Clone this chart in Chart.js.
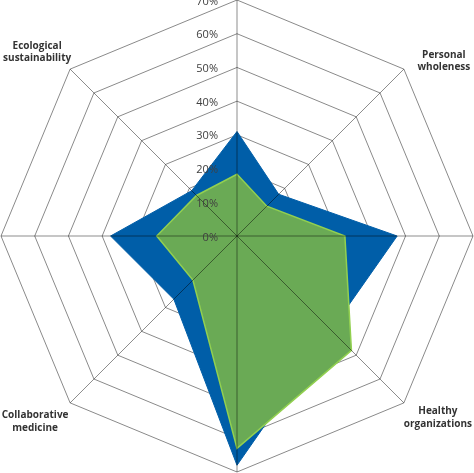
<!DOCTYPE html>
<html>
<head>
<meta charset="utf-8">
<script src="https://cdn.jsdelivr.net/npm/chart.js@4/dist/chart.umd.min.js"></script>
<style>
  html, body { margin: 0; padding: 0; background: #fff; overflow: hidden; }
  #wrap { width: 474px; height: 473px; position: relative; }
</style>
</head>
<body>
<div id="wrap"><canvas id="chart"></canvas></div>
<script>
// radar axes, clockwise from the top; the four cut-off axis names are not readable
const categories = [
  '', 'Personal\nwholeness', '', 'Healthy\norganizations',
  '', 'Collaborative\nmedicine', '', 'Ecological\nsustainability'
];
const blueValues = [31, 17.5, 47.5, 39.5, 68, 26.5, 37.5, 19];
const greenValues = [18.3, 12.5, 32, 48, 63, 18.5, 23.8, 17];
const tickValues = [0, 10, 20, 30, 40, 50, 60, 70];

// nudge of each axis label away from its corner of the grid
const labelNudge = { 1: [40, -8], 3: [34, 15], 5: [-35, 19], 7: [-33, -17] };

// spokes on top of the fills, plus tick and axis labels
const overlay = {
  id: 'overlay',
  afterDatasetsDraw(chart) {
    const r = chart.scales.r;
    const ctx = chart.ctx;
    ctx.save();

    ctx.strokeStyle = 'rgba(0,0,0,0.45)';
    ctx.lineWidth = 1;
    categories.forEach((c, i) => {
      const p = r.getPointPosition(i, r.drawingArea);
      ctx.beginPath();
      ctx.moveTo(r.xCenter, r.yCenter);
      ctx.lineTo(p.x, p.y);
      ctx.stroke();
    });

    ctx.fillStyle = '#404040';
    ctx.font = '11px "Open Sans"';
    ctx.textAlign = 'right';
    ctx.textBaseline = 'middle';
    tickValues.forEach(v => {
      const y = r.yCenter - r.getDistanceFromCenterForValue(v);
      ctx.fillText(v + '%', r.xCenter - 19, y + 1.5);
    });

    ctx.fillStyle = '#333';
    ctx.font = 'bold 10px "Open Sans"';
    ctx.textAlign = 'center';
    categories.forEach((c, i) => {
      if (!c) return;
      const p = r.getPointPosition(i, r.drawingArea);
      const n = labelNudge[i] || [0, 0];
      const lines = c.split('\n');
      const cx = p.x + n[0], cy = p.y + n[1];
      const lh = 12.7;
      lines.forEach((t, k) => {
        ctx.fillText(t, cx, cy + (k - (lines.length - 1) / 2) * lh);
      });
    });
    ctx.restore();
  }
};

new Chart(document.getElementById('chart'), {
  type: 'radar',
  data: {
    labels: categories,
    datasets: [{
      label: 'Green',
      data: greenValues,
      backgroundColor: '#6aaa55',
      borderColor: '#92d050',
      borderWidth: 1.5,
      pointRadius: 0,
      fill: true
    }, {
      label: 'Blue',
      data: blueValues,
      backgroundColor: '#005ea8',
      borderColor: '#005ea8',
      borderWidth: 1,
      pointRadius: 0,
      fill: true
    }]
  },
  options: {
    responsive: true,
    maintainAspectRatio: false,
    animation: false,
    layout: { padding: 0 },
    plugins: { legend: { display: false }, tooltip: { enabled: false } },
    scales: {
      r: {
        min: 0, max: 70,
        ticks: { stepSize: 10, display: false },
        pointLabels: { display: false },
        angleLines: { display: false },
        grid: { color: '#8a8a8a', lineWidth: 1 }
      }
    }
  },
  plugins: [overlay]
});
</script>
</body>
</html>
